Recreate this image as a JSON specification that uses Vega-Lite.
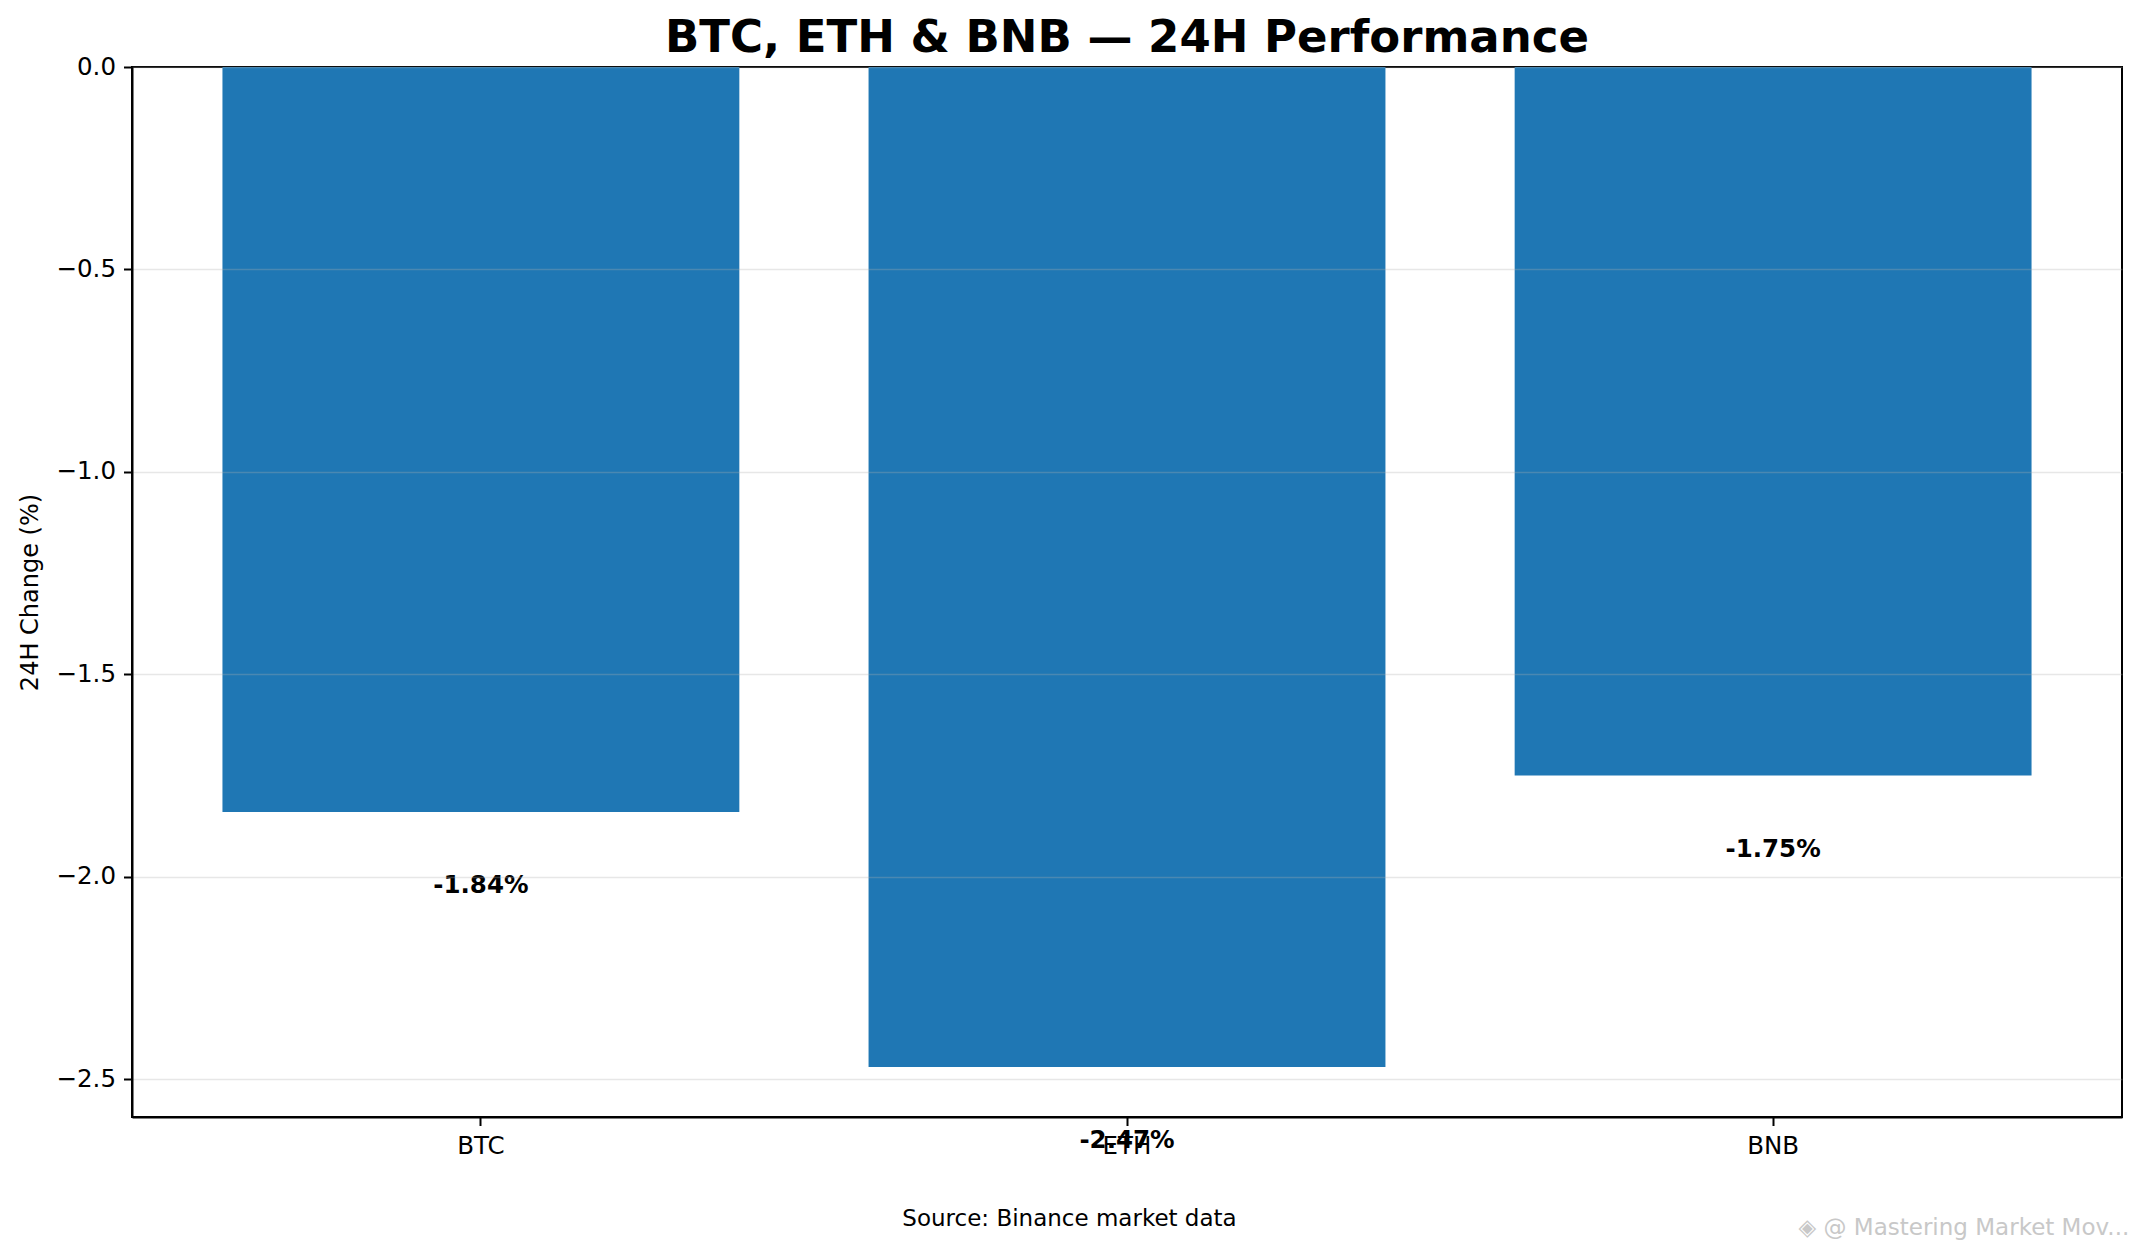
{
  "$schema": "https://vega.github.io/schema/vega-lite/v6.json",
  "width": 1990,
  "height": 1050,
  "autosize": {"type": "none"},
  "padding": {"left": 132, "top": 67, "right": 19, "bottom": 132},
  "background": "white",
  "title": {
    "text": "BTC, ETH & BNB — 24H Performance",
    "font": "DejaVu Sans",
    "fontSize": 45,
    "fontWeight": "bold",
    "color": "black",
    "anchor": "middle",
    "offset": -7
  },
  "data": {
    "values": [
      {"coin": "BTC", "change": -1.84, "label": "-1.84%"},
      {"coin": "ETH", "change": -2.47, "label": "-2.47%"},
      {"coin": "BNB", "change": -1.75, "label": "-1.75%"}
    ]
  },
  "encoding": {
    "x": {
      "field": "coin",
      "type": "nominal",
      "sort": null,
      "scale": {"paddingInner": 0.2, "paddingOuter": 0.14},
      "axis": {
        "labelAngle": 0,
        "labelFontSize": 24.5,
        "labelFont": "DejaVu Sans",
        "labelColor": "black",
        "labelPadding": 9,
        "tickSize": 8.5,
        "tickWidth": 2,
        "tickColor": "black",
        "domainColor": "black",
        "domainWidth": 2,
        "grid": false,
        "title": "Source: Binance market data",
        "titleFont": "DejaVu Sans",
        "titleFontSize": 23,
        "titleFontWeight": "normal",
        "titleColor": "black",
        "titleX": 937,
        "titleY": 101,
        "titleAlign": "center",
        "titleBaseline": "middle",
        "titleAnchor": null
      }
    }
  },
  "layer": [
    {
      "mark": {"type": "bar", "color": "#1f77b4"},
      "encoding": {
        "y": {
          "field": "change",
          "type": "quantitative",
          "scale": {"domain": [-2.5935, 0], "nice": false, "zero": false},
          "axis": {
            "values": [0, -0.5, -1, -1.5, -2, -2.5],
            "format": ".1f",
            "labelFontSize": 24.5,
            "labelFont": "DejaVu Sans",
            "labelColor": "black",
            "labelPadding": 8,
            "tickSize": 8.5,
            "tickWidth": 2,
            "tickColor": "black",
            "domainColor": "black",
            "domainWidth": 2,
            "grid": true,
            "gridColor": "#b0b0b0",
            "gridOpacity": 0.3,
            "gridWidth": 1.4,
            "zindex": 1,
            "title": "24H Change (%)",
            "titleFont": "DejaVu Sans",
            "titleFontSize": 24,
            "titleFontWeight": "normal",
            "titleColor": "black",
            "titlePadding": 14
          }
        }
      }
    },
    {
      "mark": {
        "type": "text",
        "font": "DejaVu Sans",
        "fontSize": 24.5,
        "fontWeight": "bold",
        "color": "black",
        "baseline": "middle",
        "align": "center",
        "dy": 74
      },
      "encoding": {
        "y": {
          "field": "change",
          "type": "quantitative",
          "axis": {
            "orient": "right",
            "labels": false,
            "ticks": false,
            "domain": false,
            "grid": false,
            "title": "◈ @ Mastering Market Mov...",
            "titleFont": "DejaVu Sans",
            "titleFontSize": 23,
            "titleFontWeight": "normal",
            "titleColor": "#c8c8c8",
            "titleAngle": 0,
            "titleX": -324,
            "titleY": 1160,
            "titleAlign": "left",
            "titleBaseline": "middle"
          }
        },
        "text": {"field": "label", "type": "nominal"}
      }
    }
  ],
  "resolve": {"axis": {"y": "independent"}},
  "config": {
    "view": {"stroke": "black", "strokeWidth": 2}
  }
}
